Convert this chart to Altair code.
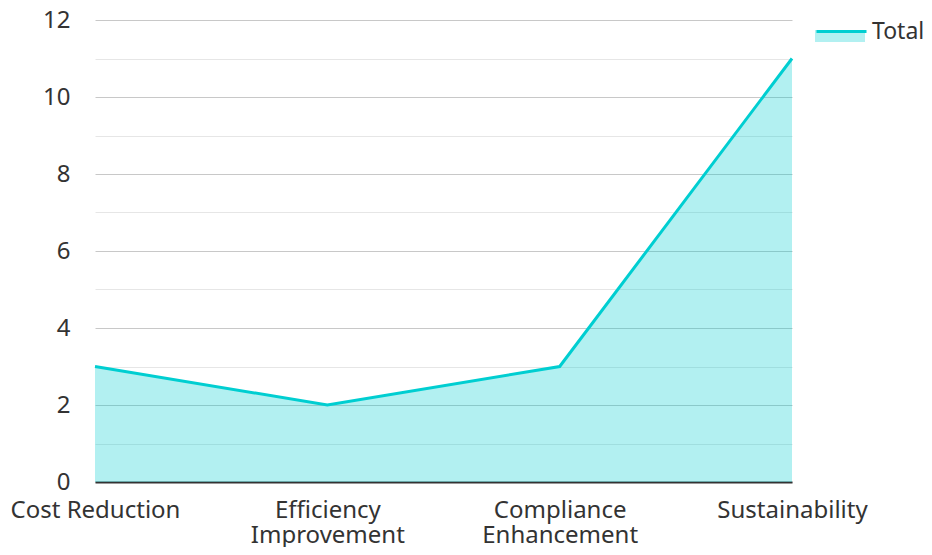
import altair as alt
import pandas as pd

categories = ["Cost Reduction", "Efficiency Improvement", "Compliance Enhancement", "Sustainability"]
totals = [3, 2, 3, 11]
series_name = "Total"

df = pd.DataFrame({"category": categories, "value": totals, "series": [series_name] * len(categories)})

FONT = "Noto Sans"
LINE = "#00CED1"
W, H = 697, 462

x_enc = alt.X(
    "category:N",
    sort=categories,
    scale=alt.Scale(type="point", padding=0),
    axis=alt.Axis(
        title=None,
        labelAngle=0,
        labelFontSize=24,
        labelFont=FONT,
        labelColor="#333333",
        labelPadding=16,
        labelLineHeight=25,
        labelExpr="length(datum.label) > 15 ? split(datum.label, ' ') : datum.label",
        ticks=False,
        tickSize=0,
        domainColor="#333333",
        domainWidth=2,
        grid=False,
    ),
)
y_enc = alt.Y(
    "value:Q",
    scale=alt.Scale(domain=[0, 12], nice=False),
    axis=alt.Axis(
        title=None,
        values=list(range(0, 13)),
        labelExpr="datum.value % 2 === 0 ? datum.label : ''",
        labelFontSize=24,
        labelFont=FONT,
        labelColor="#333333",
        labelPadding=25,
        ticks=False,
        tickSize=0,
        domain=False,
        grid=True,
        gridColor={"condition": {"test": "datum.value % 2 === 0", "value": "#c8c8c8"}, "value": "#e6e6e6"},
        gridWidth=1,
    ),
)

LEG_X = W + 23
LEG_Y = -15

area = (
    alt.Chart(df)
    .transform_calculate(fill_series="datum.series")
    .mark_area(fillOpacity=0.3, interpolate="linear")
    .encode(
        x=x_enc,
        y=y_enc,
        fill=alt.Fill(
            "fill_series:N",
            scale=alt.Scale(range=[LINE]),
            legend=alt.Legend(
                orient="none",
                legendX=LEG_X,
                legendY=LEG_Y,
                title=None,
                padding=0,
                symbolType="M-1,0 L1,0 L1,0.48 L-1,0.48 Z",
                symbolSize=2500,
                symbolOpacity=0.3,
                symbolStrokeWidth=0,
                labelOpacity=0,
                labelFontSize=23,
                labelFont=FONT,
                labelOffset=4,
            ),
        ),
    )
)

line = (
    alt.Chart(df)
    .mark_line(strokeWidth=3, interpolate="linear")
    .encode(
        x=x_enc,
        y=y_enc,
        stroke=alt.Stroke(
            "series:N",
            scale=alt.Scale(range=[LINE]),
            legend=alt.Legend(
                orient="none",
                legendX=LEG_X,
                legendY=LEG_Y,
                title=None,
                padding=0,
                symbolType="stroke",
                symbolSize=2500,
                symbolStrokeWidth=3,
                labelFontSize=23,
                labelFont=FONT,
                labelColor="#333333",
                labelOffset=4,
            ),
        ),
    )
)

chart = (
    alt.layer(area, line)
    .properties(
        width=W,
        height=H,
        autosize=alt.AutoSizeParams(type="none"),
        padding={"left": 87, "top": 12, "right": 132, "bottom": 65},
    )
    .configure(font=FONT)
    .configure_view(stroke=None)
)

chart.save("out.html", embed_options={"renderer": "svg", "actions": False})
